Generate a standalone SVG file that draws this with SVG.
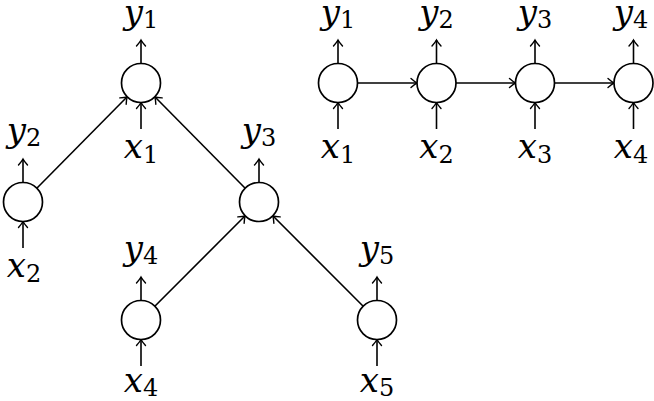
<svg xmlns="http://www.w3.org/2000/svg" width="654" height="401" viewBox="0 0 654 401">
<style>
.n{fill:#fff;stroke:#000;stroke-width:1.7}
.e{stroke:#000;stroke-width:1.6;fill:none;marker-end:url(#ah)}
.l{font-family:'DejaVu Serif','Liberation Serif',serif;font-style:italic;font-size:34px;fill:#000;text-anchor:middle}
.s{font-style:normal;font-size:24px}
</style>
<defs>
<marker id="ah" markerUnits="userSpaceOnUse" viewBox="-8 -6 10 12" refX="0" refY="0" markerWidth="10" markerHeight="12" orient="auto" overflow="visible">
<path d="M-6,-4.5 Q-2,-1 0,0 Q-2,1 -6,4.5" fill="none" stroke="#000" stroke-width="1.4" stroke-linecap="round"/>
</marker>
</defs>
<rect width="654" height="401" fill="#fff"/>
<g id="connectors">
<line class="e" x1="36.8" y1="188.2" x2="127.2" y2="96.8"/>
<line class="e" x1="245.2" y1="188.2" x2="154.8" y2="96.8"/>
<line class="e" x1="154.8" y1="306.2" x2="245.2" y2="215.8"/>
<line class="e" x1="363.2" y1="306.2" x2="272.8" y2="215.8"/>
<line class="e" x1="357.5" y1="83" x2="417" y2="83"/>
<line class="e" x1="456" y1="83" x2="515.5" y2="83"/>
<line class="e" x1="554.5" y1="83" x2="614" y2="83"/>
</g>
<g id="t1">
<line class="e" x1="141" y1="63.5" x2="141" y2="40"/>
<line class="e" x1="141" y1="129" x2="141" y2="102.5"/>
<circle class="n" cx="141" cy="83" r="19.5"/>
<text class="l" x="141" y="24">y<tspan class="s" dy="4">1</tspan></text>
<text class="l" x="141" y="158">x<tspan class="s" dy="5">1</tspan></text>
</g>
<g id="t2">
<line class="e" x1="23" y1="182.5" x2="23" y2="159"/>
<line class="e" x1="23" y1="248" x2="23" y2="221.5"/>
<circle class="n" cx="23" cy="202" r="19.5"/>
<text class="l" x="24" y="142">y<tspan class="s" dy="4">2</tspan></text>
<text class="l" x="24" y="277">x<tspan class="s" dy="5">2</tspan></text>
</g>
<g id="t3">
<line class="e" x1="259" y1="182.5" x2="259" y2="159"/>
<circle class="n" cx="259" cy="202" r="19.5"/>
<text class="l" x="259" y="142">y<tspan class="s" dy="4">3</tspan></text>
</g>
<g id="t4">
<line class="e" x1="141" y1="300.5" x2="141" y2="277"/>
<line class="e" x1="141" y1="366" x2="141" y2="339.5"/>
<circle class="n" cx="141" cy="320" r="19.5"/>
<text class="l" x="141" y="260">y<tspan class="s" dy="4">4</tspan></text>
<text class="l" x="141" y="392">x<tspan class="s" dy="4">4</tspan></text>
</g>
<g id="t5">
<line class="e" x1="377" y1="300.5" x2="377" y2="277"/>
<line class="e" x1="377" y1="366" x2="377" y2="339.5"/>
<circle class="n" cx="377" cy="320" r="19.5"/>
<text class="l" x="377" y="260">y<tspan class="s" dy="4">5</tspan></text>
<text class="l" x="377" y="392">x<tspan class="s" dy="4">5</tspan></text>
</g>
<g id="c1">
<line class="e" x1="338" y1="63.5" x2="338" y2="40"/>
<line class="e" x1="338" y1="129" x2="338" y2="102.5"/>
<circle class="n" cx="338" cy="83" r="19.5"/>
<text class="l" x="338" y="24">y<tspan class="s" dy="4">1</tspan></text>
<text class="l" x="338" y="158">x<tspan class="s" dy="5">1</tspan></text>
</g>
<g id="c2">
<line class="e" x1="436.5" y1="63.5" x2="436.5" y2="40"/>
<line class="e" x1="436.5" y1="129" x2="436.5" y2="102.5"/>
<circle class="n" cx="436.5" cy="83" r="19.5"/>
<text class="l" x="436.5" y="24">y<tspan class="s" dy="4">2</tspan></text>
<text class="l" x="436.5" y="158">x<tspan class="s" dy="5">2</tspan></text>
</g>
<g id="c3">
<line class="e" x1="535" y1="63.5" x2="535" y2="40"/>
<line class="e" x1="535" y1="129" x2="535" y2="102.5"/>
<circle class="n" cx="535" cy="83" r="19.5"/>
<text class="l" x="535" y="24">y<tspan class="s" dy="4">3</tspan></text>
<text class="l" x="535" y="158">x<tspan class="s" dy="5">3</tspan></text>
</g>
<g id="c4">
<line class="e" x1="633.5" y1="63.5" x2="633.5" y2="40"/>
<line class="e" x1="633.5" y1="129" x2="633.5" y2="102.5"/>
<circle class="n" cx="633.5" cy="83" r="19.5"/>
<text class="l" x="631" y="24">y<tspan class="s" dy="4">4</tspan></text>
<text class="l" x="631" y="158">x<tspan class="s" dy="5">4</tspan></text>
</g>
</svg>
